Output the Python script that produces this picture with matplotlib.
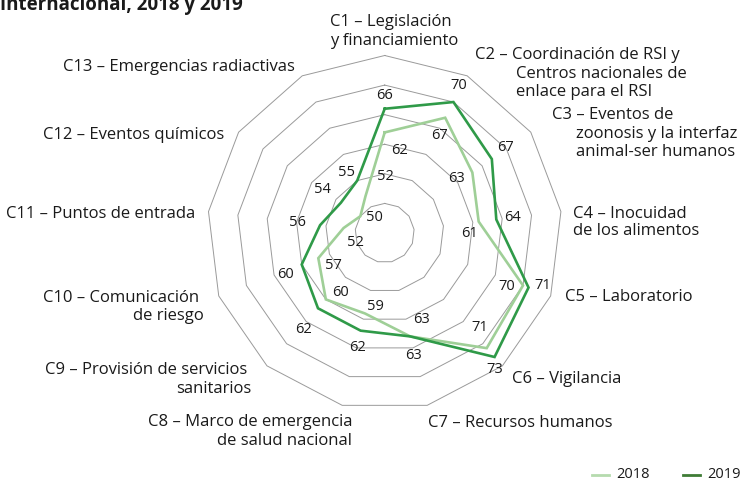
import numpy as np
import matplotlib
matplotlib.use("Agg")
import matplotlib.pyplot as plt
from matplotlib.lines import Line2D

# ---------------- data ----------------
categories = ["C1", "C2", "C3", "C4", "C5", "C6", "C7",
              "C8", "C9", "C10", "C11", "C12", "C13"]
values_2018 = [62, 67, 63, 61, 70, 71, 63, 59, 60, 57, 52, 50, 52]
values_2019 = [66, 70, 67, 64, 71, 73, 63, 62, 62, 60, 56, 54, 55]
ring_values = [50, 55, 60, 65, 70, 75]
r_min, r_max = 45, 75
series_labels = ["2018", "2019"]
title_text = "Internacional, 2018 y 2019"

# category label lines: (text, x_px, center_y_px, ha)
cat_label_lines = [
    ("C1 – Legislación", 330, 20, "left"),
    ("y financiamiento", 330, 39, "left"),
    ("C2 – Coordinación de RSI y", 475, 52.7, "left"),
    ("Centros nacionales de", 516, 71.7, "left"),
    ("enlace para el RSI", 516, 90, "left"),
    ("C3 – Eventos de", 551.7, 113.3, "left"),
    ("zoonosis y la interfaz", 576, 131.7, "left"),
    ("animal-ser humanos", 576, 150, "left"),
    ("C4 – Inocuidad", 573.3, 211.7, "left"),
    ("de los alimentos", 573.3, 229.3, "left"),
    ("C5 – Laboratorio", 565, 295, "left"),
    ("C6 – Vigilancia", 512, 377, "left"),
    ("C7 – Recursos humanos", 428, 421, "left"),
    ("C8 – Marco de emergencia", 352, 420, "right"),
    ("de salud nacional", 352, 439, "right"),
    ("C9 – Provisión de servicios", 247.3, 368.3, "right"),
    ("sanitarios", 251.7, 386.7, "right"),
    ("C10 – Comunicación", 199.3, 296, "right"),
    ("de riesgo", 204, 314, "right"),
    ("C11 – Puntos de entrada", 195, 211.7, "right"),
    ("C12 – Eventos químicos", 224, 132.7, "right"),
    ("C13 – Emergencias radiactivas", 295, 65, "right"),
]

# value-label offsets from their data point (screen pixels: +x right, +y down)
offsets_2018 = [(15.3, 16.8), (-5.9, 16.3), (-15.7, 4.2), (-8.7, 10.7),
                (-16.3, -0.5), (-6.8, -22.1), (11.5, -18.1), (10.1, -8.4),
                (14.2, -8.8), (14.9, 5.8), (11.5, 13.0), (14.0, -0.2),
                (19.5, -21.3)]
offsets_2019 = [(-0.4, -14.7), (5.5, -18.0), (13.9, -13.4), (16.4, -3.5),
                (14.2, -3.5), (0.5, 11.3), (3.1, 17.6), (-2.9, 15.0),
                (-14.7, 19.4), (-15.8, 8.2), (-22.8, -4.1), (-18.6, -14.5),
                (-10.5, -9.6)]

# ---------------- style ----------------
W, H = 755, 483
DPI = 100
FONT = "Open Sans"
TXT = "#1a1a1a"
C2018 = "#9fcf97"
C2019 = "#2f9a48"
GRID = "#9a9a9a"

plt.rcParams["font.family"] = [FONT, "DejaVu Sans"]

fig = plt.figure(figsize=(W / DPI, H / DPI), dpi=DPI)
fig.patch.set_facecolor("white")

cx, cy, R = 384.7, 233.0, 177.5
ax = fig.add_axes([(cx - R) / W, (H - (cy + R)) / H, 2 * R / W, 2 * R / H],
                  projection="polar")
ax.set_theta_zero_location("N")
ax.set_theta_direction(-1)
ax.set_ylim(r_min, r_max)
ax.grid(False)
ax.spines["polar"].set_visible(False)
ax.set_xticks([])
ax.set_yticks([])
ax.patch.set_alpha(0)

n = len(categories)
theta = np.linspace(0, 2 * np.pi, n, endpoint=False)
theta_c = np.append(theta, theta[0])

for rv in ring_values:
    ax.plot(theta_c, [rv] * (n + 1), color=GRID, lw=0.7, zorder=1,
            clip_on=False)

v18 = np.append(values_2018, values_2018[0])
v19 = np.append(values_2019, values_2019[0])
ax.plot(theta_c, v18, color=C2018, lw=1.9, zorder=3, clip_on=False,
        solid_joinstyle="miter")
ax.plot(theta_c, v19, color=C2019, lw=1.9, zorder=4, clip_on=False,
        solid_joinstyle="miter")

VAL_FS = 10.5
base_shift = 5.0  # half digit height (pixels)
for vals, offs in ((values_2018, offsets_2018), (values_2019, offsets_2019)):
    for t, v, (dx, dy) in zip(theta, vals, offs):
        ax.annotate(str(v), xy=(t, v), xytext=(dx, -dy - base_shift),
                    textcoords="offset pixels", ha="center", va="baseline",
                    fontsize=VAL_FS, color=TXT, zorder=6, annotation_clip=False)

CAT_FS = 12
cap_half = 6.0
for txt, x, yc, ha in cat_label_lines:
    fig.text(x / W, 1 - (yc + cap_half) / H, txt, ha=ha, va="baseline",
             fontsize=CAT_FS, color=TXT)

# title (cut off at the top, as in the source page)
fig.text(0 / W, 1 - 10.0 / H, title_text, ha="left", va="baseline",
         fontsize=13.5, fontweight="bold", color=TXT)

# legend
leg_y = 475
leg_items = [(series_labels[0], "#b5dbae", 592, 609, 616),
             (series_labels[1], "#3f7c36", 683, 700, 707)]
for lab, col, x1, x2, xt in leg_items:
    fig.add_artist(Line2D([x1 / W, x2 / W], [1 - leg_y / H, 1 - leg_y / H],
                          color=col, lw=2.0, transform=fig.transFigure))
    fig.text(xt / W, 1 - (leg_y - 1) / H, lab, ha="left", va="center",
             fontsize=10.5, color=TXT)

fig.savefig("out.png", dpi=DPI, facecolor="white")
